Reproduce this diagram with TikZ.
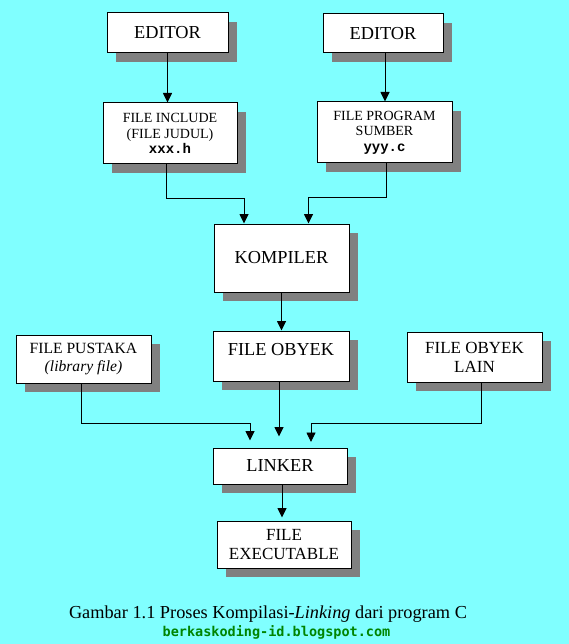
\documentclass[tikz,border=0pt]{standalone}
\usepackage{fontspec}
\setmainfont{Liberation Serif}
\setmonofont{Liberation Mono}
\newfontfamily\greenfont{DejaVu Sans Mono}
\usetikzlibrary{shadows,arrows.meta}
\definecolor{bgcyan}{RGB}{128,255,255}
\definecolor{shadowgray}{RGB}{128,128,128}
\definecolor{sitegreen}{RGB}{0,132,0}
\tikzset{
  box/.style={draw=black, line width=1pt, fill=white, inner sep=1pt, align=center,
    drop shadow={shadow xshift=9pt, shadow yshift=-9pt, fill=shadowgray, opacity=1}},
  arr/.style={line width=0.9pt, -{Triangle[length=9.5pt,width=9pt]}},
  big/.style={font=\fontsize{18.3}{19}\selectfont},
}
\begin{document}
\begin{tikzpicture}[x=1pt,y=-1pt]
\fill[bgcyan] (0,0) rectangle (569,644);
\node[box, big, minimum width=121pt, minimum height=40pt] (E1) at (167.5,33) {EDITOR};
\node[box, big, minimum width=120pt, minimum height=39pt] (E2) at (383,33.5) {EDITOR};
\node[box, font=\fontsize{14}{15.5}\selectfont, minimum width=134pt, minimum height=61pt] (INC) at (170,133.5)
  {FILE INCLUDE\\(FILE JUDUL)\\\texttt{\bfseries xxx.h}};
\node[box, font=\fontsize{14}{15.5}\selectfont, minimum width=135pt, minimum height=61pt] (PRG) at (384.5,132.5)
  {FILE PROGRAM\\SUMBER\\\texttt{\bfseries yyy.c}};
\node[box, big, minimum width=135pt, minimum height=68pt] (KOM) at (281.5,258) {KOMPILER};
\node[box, font=\fontsize{15.6}{18}\selectfont, minimum width=135pt, minimum height=48pt] (PUS) at (83.5,359)
  {FILE PUSTAKA\\\textit{(library file)}};
\node[box, big, text height=12pt, text depth=14pt, minimum width=136pt, minimum height=50pt] (OBY) at (281,356) {FILE OBYEK};
\node[box, font=\fontsize{17}{19}\selectfont, minimum width=135pt, minimum height=50pt] (LAIN) at (474.5,357)
  {FILE OBYEK\\LAIN};
\node[box, big, minimum width=134pt, minimum height=36pt] (LNK) at (280,466) {LINKER};
\node[box, font=\fontsize{17}{19}\selectfont, minimum width=134pt, minimum height=47pt] (EXE) at (284,544.5)
  {FILE\\EXECUTABLE};
% connectors
\draw[arr] (E1.south) -- (E1.south |- INC.north);
\draw[arr] ([xshift=2pt]E2.south) -- ([xshift=2pt]E2.south |- PRG.north);
\draw[arr] ([xshift=-4pt]INC.south) -- ++(0,34) -| ([xshift=-37.5pt]KOM.north);
\draw[arr] ([xshift=2pt]PRG.south) -- ++(0,34) -| ([xshift=27pt]KOM.north);
\draw[arr] (KOM.south) -- (KOM.south |- OBY.north);
\draw[arr, shorten >=7pt] ([xshift=-2pt]PUS.south) -- ++(0,40) -| ([xshift=-30pt]LNK.north);
\draw[arr, shorten >=11pt] ([xshift=-2pt]OBY.south) -- ([xshift=-1pt]LNK.north);
\draw[arr, shorten >=5.5pt] ([xshift=7pt]LAIN.south) -- ++(0,41) -| ([xshift=31pt]LNK.north);
\draw[arr, shorten >=3pt] ([xshift=2pt]LNK.south) -- ([xshift=-2pt]EXE.north);
% captions
\node[anchor=base, inner sep=0pt, font=\fontsize{18.3}{19}\selectfont] (cap) at (268,618)
  {Gambar 1.1 Proses Kompilasi-\textit{Linking} dari program C};
\node[anchor=base, inner sep=0pt, text=sitegreen, font=\greenfont\bfseries\fontsize{13.5}{15}\selectfont] (site) at (276.5,636.5)
  {berkaskoding-id.blogspot.com};
\end{tikzpicture}
\end{document}
